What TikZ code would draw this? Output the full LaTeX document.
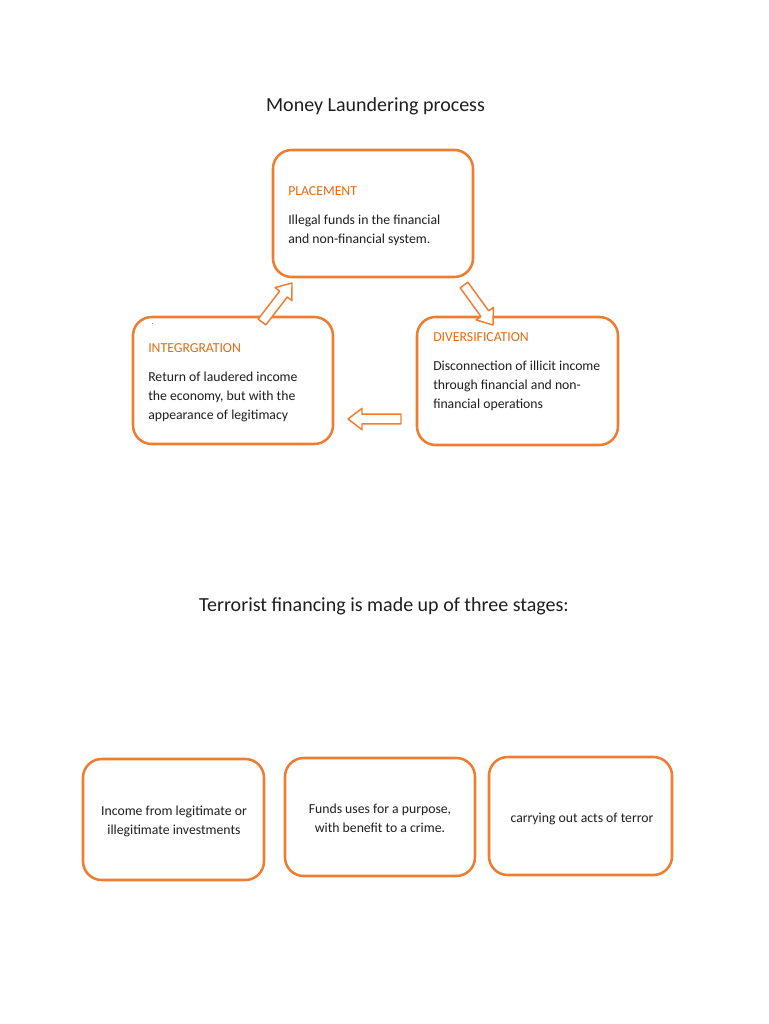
\documentclass[tikz,border=0pt]{standalone}
\usepackage{fontspec}
\setmainfont{Carlito}
\usepackage{tikz}
\usetikzlibrary{calc, positioning}

\definecolor{boxorange}{RGB}{237,125,49}
\definecolor{headorange}{RGB}{226,107,20}
\definecolor{bodyink}{RGB}{30,30,30}

\tikzset{
  stagebox/.style={draw=boxorange, line width=1.9pt, rounded corners=14pt, fill=white},
  stagehead/.style={anchor=west, inner sep=0pt, text=headorange, font=\fontsize{10.3}{14.3}\selectfont},
  stagebody/.style={anchor=north west, inner sep=0pt, align=left, text=bodyink, font=\fontsize{10.3}{14.3}\selectfont},
  tfbody/.style={inner sep=0pt, align=center, text=bodyink, font=\fontsize{10.3}{14.3}\selectfont},
  hollow/.style={draw=boxorange, line width=1.1pt, fill=white, line join=round}
}

% hollow block arrow from #1 to #2
\newcommand{\hollowarrow}[2]{%
  \coordinate (#1-neck) at ($(#2)!10.5pt!(#1)$);
  \draw[hollow] ($(#1)!3.6pt!90:(#2)$) -- ($(#1-neck)!3.6pt!-90:(#1)$)
    -- ($(#1-neck)!8pt!-90:(#1)$) -- (#2) -- ($(#1-neck)!8pt!90:(#1)$)
    -- ($(#1-neck)!3.6pt!90:(#1)$) -- ($(#1)!3.6pt!-90:(#2)$) -- cycle;
}

\begin{document}
\begin{tikzpicture}[x=0.75pt,y=0.75pt,yscale=-1,xscale=1]
\useasboundingbox (0,0) rectangle (768,1024);

% Title
\node (mltitle) at (375.5,106.5) [inner sep=0pt, text=bodyink, font=\fontsize{15}{18}\selectfont] {Money Laundering process};

%Shape: Rounded Rect
\node (place) at (373,213.5) [stagebox, minimum width=150pt, minimum height=95.25pt] {};
\node (integ) at (233,380.5) [stagebox, minimum width=150pt, minimum height=95.25pt] {};
\node (diver) at (517.5,381) [stagebox, minimum width=150.75pt, minimum height=96pt] {};

% Block arrows
\coordinate (integ tail) at (262,322);
\coordinate (place tip) at (292,283);
\coordinate (place tail) at (464,285);
\coordinate (diver tip) at (493,325);
\coordinate (diver tail) at (401,419);
\coordinate (integ tip) at (348,419);
\hollowarrow{integ tail}{place tip}
\hollowarrow{place tail}{diver tip}
\hollowarrow{diver tail}{integ tip}

% Text Node
\node (placehead) at (288,191) [stagehead] {PLACEMENT};
\node (placebody) at (288,214.5) [stagebody] {Illegal funds in the financial\\and non-financial system.};
% Text Node
\node (integhead) at (148,348) [stagehead] {INTEGRGRATION};
\node (integbody) at (148,371.5) [stagebody] {Return of laudered income\\the economy, but with the\\appearance of legitimacy};
\node (integdot) at (152.5,324) [inner sep=0pt, text=bodyink, font=\tiny] {.};
% Text Node
\node (diverhead) at (433,337) [stagehead] {DIVERSIFICATION};
\node (diverbody) at (433,360.5) [stagebody] {Disconnection of illicit income\\through financial and non-\\financial operations};

% Title
\node (tftitle) at (384,606.5) [inner sep=0pt, text=bodyink, font=\fontsize{15}{18}\selectfont] {Terrorist financing is made up of three stages:};

%Shape: Rounded Rect
\node (income) at (173.5,819.5) [stagebox, minimum width=135.75pt, minimum height=90.75pt] {};
\node (funds) at (380,817) [stagebox, minimum width=142.5pt, minimum height=88.5pt] {};
\node (terror) at (580.5,816) [stagebox, minimum width=137.25pt, minimum height=88.5pt] {};

% Text Node
\node (incometext) at (174,821) [tfbody] {Income from legitimate or\\illegitimate investments};
\node (fundstext) at (380,818) [tfbody] {Funds uses for a purpose,\\with benefit to a crime.};
\node (terrortext) at (582,818.5) [tfbody] {carrying out acts of terror};

\end{tikzpicture}
\end{document}
